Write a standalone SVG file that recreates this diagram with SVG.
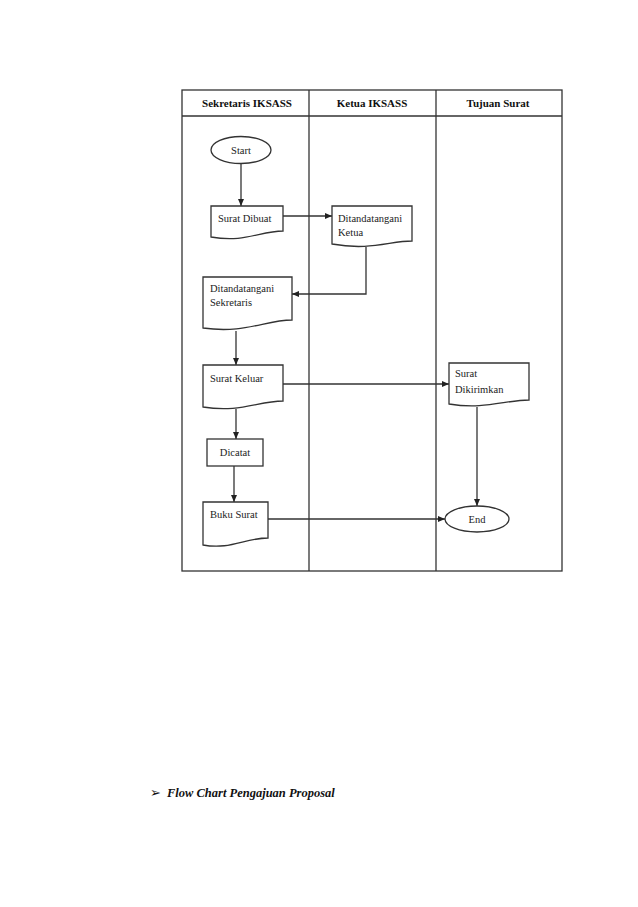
<svg xmlns="http://www.w3.org/2000/svg" width="638" height="907" viewBox="0 0 638 907">
<style>
.ln{fill:none;stroke:#333;stroke-width:1.3}
.sh{fill:#fff;stroke:#333;stroke-width:1.3}
.t{font-family:"Liberation Serif",serif;font-size:10.5px;fill:#222}
.h{font-family:"Liberation Serif",serif;font-size:11px;font-weight:bold;fill:#111;text-anchor:middle}
.c{text-anchor:middle}
</style>
<defs>
<marker id="ar" markerWidth="8" markerHeight="8" refX="7" refY="4" orient="auto" markerUnits="userSpaceOnUse">
<path d="M0,1 L7,4 L0,7 Z" fill="#222"/>
</marker>
</defs>
<rect width="638" height="907" fill="#fff"/>
<g id="lanes">
<rect x="182" y="90" width="380" height="481" class="ln" stroke-width="1.5"/>
<line x1="182" y1="116" x2="562" y2="116" class="ln"/>
<line x1="309" y1="90" x2="309" y2="571" class="ln"/>
<line x1="436" y1="90" x2="436" y2="571" class="ln"/>
<text x="247" y="107" class="h">Sekretaris IKSASS</text>
<text x="372" y="107" class="h">Ketua IKSASS</text>
<text x="498" y="107" class="h">Tujuan Surat</text>
</g>
<g id="connectors">
<line x1="241" y1="163" x2="241" y2="206" class="ln" marker-end="url(#ar)"/>
<line x1="283" y1="216" x2="332" y2="216" class="ln" marker-end="url(#ar)"/>
<polyline points="366,247 366,294 292,294" class="ln" marker-end="url(#ar)"/>
<line x1="236" y1="331" x2="236" y2="365" class="ln" marker-end="url(#ar)"/>
<line x1="283" y1="384" x2="449" y2="384" class="ln" marker-end="url(#ar)"/>
<line x1="236" y1="409" x2="236" y2="439" class="ln" marker-end="url(#ar)"/>
<line x1="234" y1="466" x2="234" y2="502" class="ln" marker-end="url(#ar)"/>
<line x1="477" y1="407" x2="477" y2="506" class="ln" marker-end="url(#ar)"/>
<line x1="268" y1="519" x2="445" y2="519" class="ln" marker-end="url(#ar)"/>
</g>
<g id="start">
<ellipse cx="241" cy="150" rx="30" ry="13.5" class="sh"/>
<text x="241" y="154" class="t c">Start</text>
</g>
<g id="surat-dibuat">
<path d="M211,206 H283 V231 C260,231 245,243 211,237 Z" class="sh"/>
<text x="218" y="222" class="t">Surat Dibuat</text>
</g>
<g id="ditandatangani-ketua">
<path d="M332,206 H412 V241 C390,241 370,251 332,244 Z" class="sh"/>
<text x="338" y="222" class="t">Ditandatangani</text>
<text x="338" y="236" class="t">Ketua</text>
</g>
<g id="ditandatangani-sekretaris">
<path d="M203,277 H292 V320 C265,320 245,334 203,328 Z" class="sh"/>
<text x="210" y="292" class="t">Ditandatangani</text>
<text x="210" y="306" class="t">Sekretaris</text>
</g>
<g id="surat-keluar">
<path d="M203,365 H283 V401 C258,401 240,413 203,407 Z" class="sh"/>
<text x="210" y="382" class="t">Surat Keluar</text>
</g>
<g id="surat-dikirimkan">
<path d="M449,363 H529 V400 C505,400 485,410 449,404 Z" class="sh"/>
<text x="455" y="377" class="t">Surat</text>
<text x="455" y="393" class="t">Dikirimkan</text>
</g>
<g id="dicatat">
<rect x="207" y="439" width="56" height="27" class="sh"/>
<text x="235" y="456" class="t c">Dicatat</text>
</g>
<g id="buku-surat">
<path d="M203,502 H268 V538 C245,538 230,550 203,545 Z" class="sh"/>
<text x="210" y="518" class="t">Buku Surat</text>
</g>
<g id="end">
<ellipse cx="477" cy="519" rx="32" ry="13" class="sh"/>
<text x="477" y="523" class="t c">End</text>
</g>
<g id="footer">
<text x="150" y="797" font-family="DejaVu Sans,sans-serif" font-size="13" fill="#111">➢</text>
<text x="167" y="797" font-family="Liberation Serif,serif" font-size="12.5" font-weight="bold" font-style="italic" fill="#111">Flow Chart Pengajuan Proposal</text>
</g>
</svg>
